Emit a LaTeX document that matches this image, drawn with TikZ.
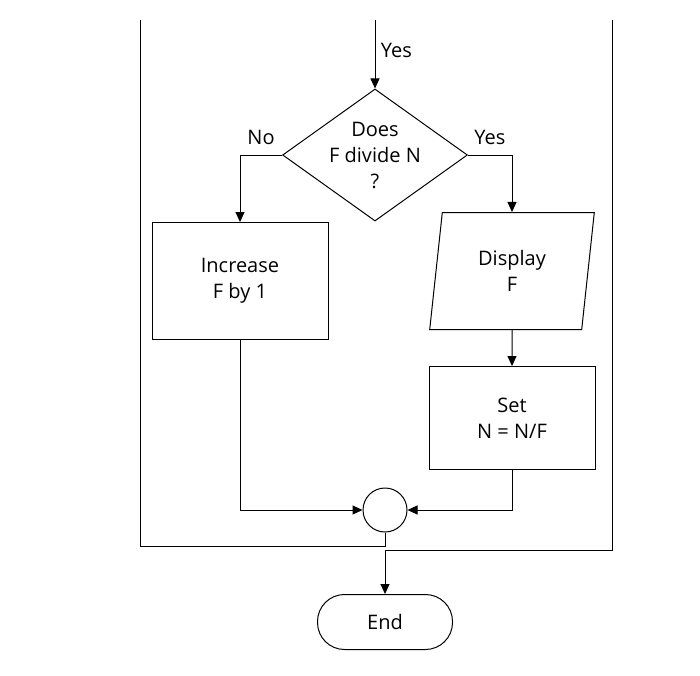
\documentclass[tikz,border=0pt]{standalone}
\usepackage{fontspec}
\setmainfont{Open Sans}
\usetikzlibrary{shapes.geometric,arrows.meta}
\begin{document}
\begin{tikzpicture}[x=1pt,y=-1pt,
  box/.style={draw,line width=1pt,align=center,font=\fontsize{20}{26}\selectfont},
  ln/.style={line width=1pt},
  arr/.style={ln,-{Triangle[length=10pt,width=9pt]}},
  lab/.style={font=\fontsize{20}{24}\selectfont}]
\useasboundingbox (0,0) rectangle (700,675);
\node[box,diamond,aspect=1.4,minimum width=166pt,minimum height=120pt,inner sep=0pt] (d) at (375,155) {Does\\F divide N\\?};
\node[box,minimum width=176pt,minimum height=117pt] (inc) at (240,281) {Increase\\F by 1};
\node[box,trapezium,trapezium left angle=82,trapezium right angle=98,trapezium stretches=true,minimum width=166pt,minimum height=117pt] (disp) at (512,271) {Display\\F};
\node[box,minimum width=166pt,minimum height=103pt] (set) at (512,418) {Set\\N = N/F};
\node[draw,ln,circle,minimum size=44pt] (c) at (385,510) {};
\node[box,rounded corners=27pt,minimum width=135pt,minimum height=55pt] (end) at (385,622) {End};
\coordinate (top) at (375,20);
\coordinate (ltop) at (140,20);
\coordinate (rtop) at (612,20);
\coordinate (lb) at (140,546);
\coordinate (rb) at (612,550);
\coordinate (cb) at (385,550);
\draw[arr] (top) -- (d.north) node[lab,pos=0.45,right=2pt] {Yes};
\draw[arr] (d.west) -| (inc.north) node[lab,pos=0.25,above=6pt] {No};
\draw[arr] (d.east) -| (disp.north) node[lab,pos=0.25,above=6pt] {Yes};
\draw[arr] (disp.south) -- (set.north);
\draw[arr] (inc.south) |- (c.west);
\draw[arr] (set.south) |- (c.east);
\draw[ln] (c.south) |- (lb) -- (ltop);
\draw[ln] (rtop) -- (rb) -- (cb);
\draw[arr] (cb) -- (end.north);
\end{tikzpicture}
\end{document}
